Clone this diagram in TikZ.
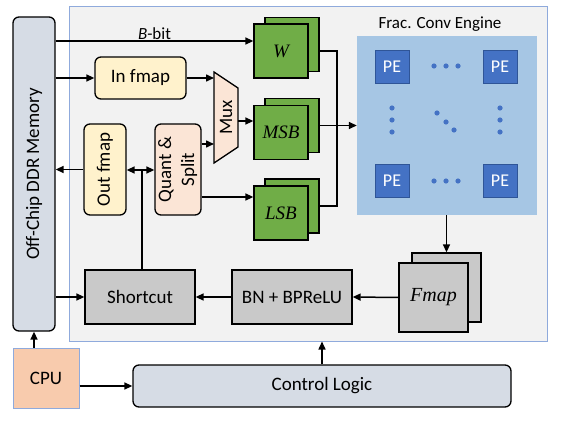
\documentclass[tikz,border=0pt]{standalone}
\usepackage{fontspec}
\setmainfont{Carlito}
\newfontfamily\varfont{Liberation Serif}
\usepackage{graphicx}
\usetikzlibrary{positioning}
\usetikzlibrary{arrows.meta}
\usetikzlibrary{calc}
\definecolor{panelfill}{HTML}{F2F2F2}
\definecolor{panelline}{HTML}{8FAADC}
\definecolor{memgray}{HTML}{D6DCE5}
\definecolor{bufyellow}{HTML}{FFF2CC}
\definecolor{peach}{HTML}{FBE5D6}
\definecolor{cpuorange}{HTML}{F8CBAD}
\definecolor{unitgray}{HTML}{C9C9C9}
\definecolor{wgreen}{HTML}{70AD47}
\definecolor{engblue}{HTML}{A6C6E4}
\definecolor{peblue}{HTML}{4472C4}
\definecolor{peline}{HTML}{2F5597}
\tikzset{
  % Text sizes
  txt/.style={font=\fontsize{19}{23}\selectfont},
  smalltxt/.style={font=\fontsize{17}{20}\selectfont},
  % The accelerator area
  panelbox/.style={draw=panelline, fill=panelfill, line width=1pt, inner sep=0pt},
  % Rounded blocks: memory, buffers, control
  rblock/.style={draw=black, line width=1.3pt, rounded corners=6pt,
    inner sep=0pt, align=center, txt},
  mem/.style={rblock, fill=memgray},
  buf/.style={rblock, fill=bufyellow},
  qsplit/.style={rblock, fill=peach},
  % Square-cornered blocks
  unit/.style={draw=black, line width=1.3pt, fill=unitgray, inner sep=0pt,
    align=center, txt},
  cpubox/.style={draw=panelline, line width=1pt, fill=cpuorange, inner sep=0pt, txt},
  % Weight / activation buffers (stacked)
  wbuf/.style={draw=black, line width=1.3pt, fill=wgreen, inner sep=0pt,
    minimum size=54pt, font=\fontsize{19}{23}\varfont\itshape},
  % The conv engine and its PEs
  engbox/.style={draw=none, fill=engblue, inner sep=0pt},
  pe/.style={draw=peline, line width=0.8pt, fill=peblue, text=white,
    minimum width=34pt, minimum height=33pt, inner sep=0pt,
    font=\fontsize{18}{20}\selectfont},
  muxshape/.style={draw=black, line width=1.3pt, fill=peach},
  % Connections
  wire/.style={draw=black, line width=1.5pt},
  arr/.style={wire, -{Triangle[length=8pt,width=7pt]}},
  lbl/.style={smalltxt, inner sep=1pt},
}
\begin{document}
\begin{tikzpicture}[x=1pt, y=-1pt]
\useasboundingbox (0,0) rectangle (576,425);

\node[panelbox, minimum width=478pt, minimum height=334pt] (panel) at (308,174) {};

% off-chip side
\node[mem, minimum width=42pt, minimum height=314pt] (ddr) at (34,174) {\rotatebox{90}{Off-Chip DDR Memory}};
\node[cpubox, minimum width=66pt, minimum height=60pt] (cpu) at (46,378) {CPU};
\node[mem, minimum width=378pt, minimum height=42pt] (ctrl) at (322,386) {Control Logic};

% buffers and quantizer
\node[buf, minimum width=91pt, minimum height=42pt] (infmap) at (140.5,78) {In fmap};
\node[buf, minimum width=42pt, minimum height=91pt] (outfmap) at (105,169.5) {\rotatebox{90}{Out fmap}};
\node[qsplit, minimum width=42pt, minimum height=91pt] (quant) at (178,169.5)
  {\rotatebox{90}{\begin{tabular}{@{}c@{}}Quant \&\\Split\end{tabular}}};

% mux
\draw[muxshape] (214,72) -- (238,88) -- (238,147) -- (214,163) -- cycle;
\node[txt, inner sep=0pt] (mux) at (226,117.5) {\rotatebox{90}{Mux}};
\coordinate (muxin1) at (214,78);
\coordinate (muxin2) at (214,144);
\coordinate (muxout) at (238,121);

% W / MSB / LSB
\node[wbuf] (wb) at (292,44.5) {};
\node[wbuf] (w) at (281,51) {W};
\node[wbuf] (msbb) at (292,125.5) {};
\node[wbuf] (msb) at (281,132.5) {MSB};
\node[wbuf] (lsbb) at (292,206) {};
\node[wbuf] (lsb) at (281,213) {LSB};
\coordinate (bus) at (337,0);
\coordinate (bbit) at (0,41);
\coordinate (tolsb) at (0,197);

% conv engine
\node[engbox, minimum width=180pt, minimum height=179pt] (engine) at (447,125.5) {};
\node[lbl] (englbl) at (440,24) {Frac. Conv Engine};
\node[pe] (pe11) at (392,66.5) {PE};
\node[pe] (pe1n) at (500,66.5) {PE};
\node[pe] (pen1) at (392,180.5) {PE};
\node[pe] (penn) at (500,180.5) {PE};
\foreach \x in {434,446,458} {
  \fill[peblue] (\x,66) circle (2.6pt);
  \fill[peblue] (\x,181) circle (2.6pt);
}
\foreach \y in {108,120,132} {
  \fill[peblue] (392,\y) circle (2.6pt);
  \fill[peblue] (500,\y) circle (2.6pt);
}
\foreach \x/\y in {437/113,446/122,454/130}
  \fill[peblue] (\x,\y) circle (2.6pt);

% post-processing
\node[unit, minimum size=69pt] (fmapb) at (446.5,287.5) {};
\node[unit, minimum size=69pt, font=\fontsize{20}{23}\varfont\itshape] (fmap) at (433.5,297.5) {Fmap};
\node[unit, minimum width=120pt, minimum height=54pt] (bn) at (292,297) {BN + BPReLU};
\node[unit, minimum width=110pt, minimum height=54pt] (shortcut) at (140,297) {Shortcut};
\coordinate (split) at (142,170);

% connections
\draw[arr] (ddr.east |- bbit) -- node[lbl, above=0pt, pos=0.5] (bbitlbl) {\textit{B}-bit} (w.west |- bbit);
\draw[arr] (ddr.east |- infmap.west) -- (infmap.west);
\draw[arr] (infmap.east) -- (muxin1);
\draw[arr] (quant.east |- muxin2) -- (muxin2);
\draw[arr] (muxout) -- (msb.west |- muxout);
\draw[arr] (quant.east |- tolsb) -- (lsb.west |- tolsb);
\draw[wire] (wb.east |- w) -| (bus |- lsbb.east) -- (lsbb.east);
\draw[arr] (msbb.east) -- (engine.west |- msbb.east);
\draw[arr] (engine.south -| fmapb.north) -- (fmapb.north);
\draw[arr] (fmap.west) -- (bn.east);
\draw[arr] (bn.west) -- (shortcut.east);
\draw[arr] (ddr.east |- shortcut.west) -- (shortcut.west);
\draw[wire] (shortcut.north -| split) -- (split);
\draw[arr] (split) -- (outfmap.east |- split);
\draw[arr] (split) -- (quant.west |- split);
\draw[arr] (outfmap.west) -- (ddr.east |- outfmap.west);
\draw[arr] (ddr.south |- cpu.north) -- (ddr.south);
\draw[arr] (cpu.east |- ctrl.west) -- (ctrl.west);
\draw[arr] (ctrl.north) -- (panel.south -| ctrl.north);

\end{tikzpicture}
\end{document}
